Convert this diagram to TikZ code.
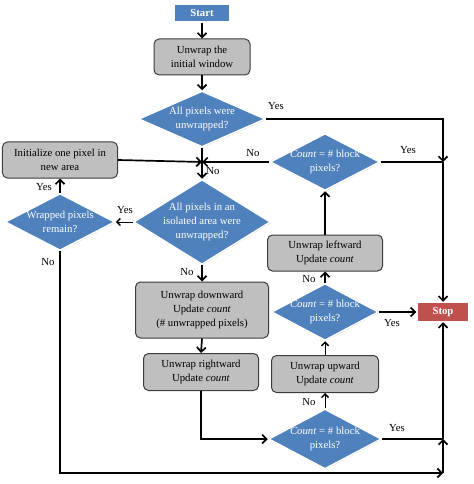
\documentclass[tikz,border=0pt]{standalone}
\usepackage{fontspec}
\setmainfont{Liberation Serif}
\usetikzlibrary{arrows.meta,shapes.geometric,shadows}
\definecolor{dblue}{RGB}{79,129,189}
\definecolor{bgray}{RGB}{191,191,191}
\definecolor{bdark}{RGB}{60,60,60}
\definecolor{sred}{RGB}{192,80,77}
\begin{document}
\begin{tikzpicture}[x=1bp,y=-1bp,
  font=\fontsize{10.8}{14}\selectfont,
  box/.style={draw=bdark, line width=1bp, fill=bgray, rounded corners=5bp, align=center, inner sep=0pt},
  dia/.style={diamond, fill=dblue, draw=white, line width=1.5bp, inner sep=0pt,
    drop shadow={opacity=0.3,shadow xshift=0.8bp,shadow yshift=-0.8bp}},
  dtxt/.style={text=white, align=center, inner sep=0pt},
  term/.style={rectangle, draw=white, line width=1.5bp, text=white, font=\fontsize{10.8}{14}\selectfont\bfseries, inner sep=0pt,
    drop shadow={opacity=0.3,shadow xshift=0.8bp,shadow yshift=-0.8bp}},
  ln/.style={line width=1.7bp},
  arr/.style={line width=1.7bp, -{Straight Barb[length=4.5bp,width=9bp,line width=1.7bp]}},
  tarr/.style={line width=1bp, -{Straight Barb[length=3.5bp,width=7bp,line width=1.5bp]}},
  lbl/.style={inner sep=0pt}]
\useasboundingbox (0,0) rectangle (474,484);
% nodes
\node[term, fill=dblue, minimum width=55bp, minimum height=18bp] (start) at (202,13) {Start};
\node[box, minimum width=96bp, minimum height=36bp] (init) at (202,57) {Unwrap the\\initial window};
\node[dia, minimum width=127bp, minimum height=56bp, label={[dtxt]center:{All pixels were\\unwrapped?}}] (d1) at (202,119) {};
\node[box, minimum width=115bp, minimum height=36bp] (newp) at (60,160) {Initialize one pixel in\\new area};
\node[dia, minimum width=110bp, minimum height=57bp, label={[dtxt]center:{\textit{Count} = \# block\\pixels?}}] (c1) at (325,162) {};
\node[dia, minimum width=137bp, minimum height=85bp, label={[dtxt]center:{All pixels in an\\isolated area were\\unwrapped?}}] (d2) at (202,222) {};
\node[dia, minimum width=110bp, minimum height=57bp, label={[dtxt]center:{Wrapped pixels\\remain?}}] (wr) at (60,222) {};
\node[box, minimum width=115bp, minimum height=36bp] (left) at (325,253) {Unwrap leftward\\Update \textit{count}};
\node[box, minimum width=133bp, minimum height=56bp] (down) at (202,310) {Unwrap downward\\Update \textit{count}\\(\# unwrapped pixels)};
\node[dia, minimum width=107bp, minimum height=57bp, label={[dtxt]center:{\textit{Count} = \# block\\pixels?}}] (c2) at (325,312) {};
\node[term, fill=sred, minimum width=52bp, minimum height=19bp] (stop) at (443,312) {Stop};
\node[box, minimum width=115bp, minimum height=37bp] (right) at (201,372) {Unwrap rightward\\Update \textit{count}};
\node[box, minimum width=107bp, minimum height=37bp] (up) at (325,374) {Unwrap upward\\Update \textit{count}};
\node[dia, minimum width=113bp, minimum height=60bp, label={[dtxt]center:{\textit{Count} = \# block\\pixels?}}] (c3) at (325,439) {};
% coordinates
\coordinate (J) at (202,162);
\coordinate (R2) at (443,162);
\coordinate (R3) at (443,439);
\coordinate (R4) at (443,473);
% connectors
\draw[arr] (start.south) -- (init.north);
\draw[arr] (init.south) -- (d1.north);
\draw[arr] (d1.south) -- (d2.north);
\draw[arr] (newp.east) -- (J);
\draw[arr] (c1.west) -- (J);
\draw[arr] (d1.east) -| (R2);
\draw[ln] (c1.east) -- (R2);
\draw[arr] (R2) -- (stop.north);
\draw[arr] (c2.east) -- (stop.west);
\draw[ln] (c3.east) -- (R3);
\draw[arr] (R4) -- (R3);
\draw[arr] (R3) -- (stop.south);
\draw[arr] (wr.south) |- (R4);
\draw[arr] (wr.north) -- (newp.south);
\draw[tarr] (d2.west) -- (wr.east);
\draw[arr] (d2.south) -- (down.north);
\draw[arr] (down.south) -- (right.north);
\draw[arr] (right.south) |- (c3.west);
\draw[tarr] (c3.north) -- (up.south);
\draw[tarr] (up.north) -- (c2.south);
\draw[arr] (c2.north) -- (left.south);
\draw[arr] (left.north) -- (c1.south);
% labels
\node[lbl] (l1) at (276,106) {Yes};
\node[lbl] (l2) at (253,153) {No};
\node[lbl] (l3) at (408,150) {Yes};
\node[lbl] (l4) at (213,171) {No};
\node[lbl] (l5) at (125,210) {Yes};
\node[lbl] (l6) at (44,187) {Yes};
\node[lbl] (l7) at (48,262) {No};
\node[lbl] (l8) at (187,272) {No};
\node[lbl] (l9) at (309,279) {No};
\node[lbl] (l10) at (309,402) {No};
\node[lbl] (l11) at (392,323) {Yes};
\node[lbl] (l12) at (397,428) {Yes};
\end{tikzpicture}
\end{document}
